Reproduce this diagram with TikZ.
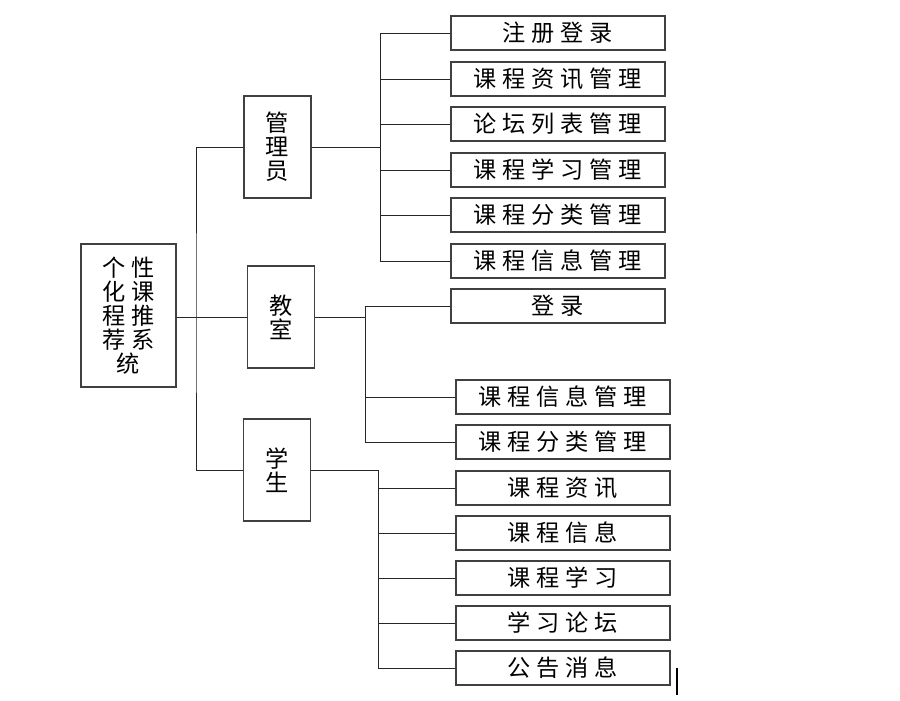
\documentclass[tikz,border=0pt]{standalone}
\usepackage{fontspec}
\usepackage{tikz}
\usetikzlibrary{shapes,arrows.meta}
\newfontfamily\cjk[LetterSpace=25]{Noto Sans CJK SC}
\tikzset{
  box/.style={draw=black!75, line width=0.9pt, align=center, inner sep=0pt,
    font=\cjk\fontsize{16.5}{17}\selectfont},
  rootbox/.style={box, minimum width=2.375cm, minimum height=3.575cm},
  rolebox/.style={box, minimum width=1.68cm, minimum height=2.55cm},
  funcbox/.style={box, minimum width=5.35cm, minimum height=0.85cm},
  link/.style={draw=black!85, line width=0.7pt}
}
\newcommand{\rolenode}[3] {\node at (#1) (#2) [rolebox] {#3};}
\newcommand{\funcnode}[3] {\node at (#1) (#2) [funcbox] {#3};}
\newcommand{\funclink}[2] {\draw [link] (#1) |- (#2.west);}

\begin{document}
\begin{tikzpicture}[x=0.025cm, y=-0.025cm]
\useasboundingbox (0,0) rectangle (900,700);

\node at (128.5,315.5) (sys) [rootbox] {个性\\化课\\程推\\荐系\\统};

\rolenode {277.5,147}{adm}{管\\理\\员};
\rolenode {281,317}{tea}{教\\室};
\rolenode {277,470}{stu}{学\\生};

% admin functions
\funcnode {558,33}{a1}{注册登录};
\funcnode {558,79}{a2}{课程资讯管理};
\funcnode {558,124}{a3}{论坛列表管理};
\funcnode {558,170}{a4}{课程学习管理};
\funcnode {558,215}{a5}{课程分类管理};
\funcnode {558,261}{a6}{课程信息管理};

% teacher functions
\funcnode {558,306}{t1}{登录};
\funcnode {563,397}{t2}{课程信息管理};
\funcnode {563,442}{t3}{课程分类管理};

% student functions
\funcnode {563,488}{s1}{课程资讯};
\funcnode {563,533}{s2}{课程信息};
\funcnode {563,578}{s3}{课程学习};
\funcnode {563,623}{s4}{学习论坛};
\funcnode {563,668}{s5}{公告消息};

\coordinate (trunk) at (196,317);
\coordinate (ba) at (380,147);
\coordinate (bt) at (365,317);
\coordinate (bs) at (378,470);

\draw [link] (sys.east |- tea.west) -- (tea.west);
\draw [link] (adm.west) -| (trunk) |- (stu.west);
\draw [link] (adm.east) -- (ba);
\draw [link] (tea.east) -- (bt);
\draw [link] (stu.east) -- (bs);

\funclink{ba}{a1};
\funclink{ba}{a2};
\funclink{ba}{a3};
\funclink{ba}{a4};
\funclink{ba}{a5};
\funclink{ba}{a6};

\funclink{bt}{t1};
\funclink{bt}{t2};
\funclink{bt}{t3};

\funclink{bs}{s1};
\funclink{bs}{s2};
\funclink{bs}{s3};
\funclink{bs}{s4};
\funclink{bs}{s5};

\coordinate (cur1) at (677,668);
\coordinate (cur2) at (677,695);
\draw [line width=1.5pt] (cur1) -- (cur2);

\end{tikzpicture}
\end{document}
